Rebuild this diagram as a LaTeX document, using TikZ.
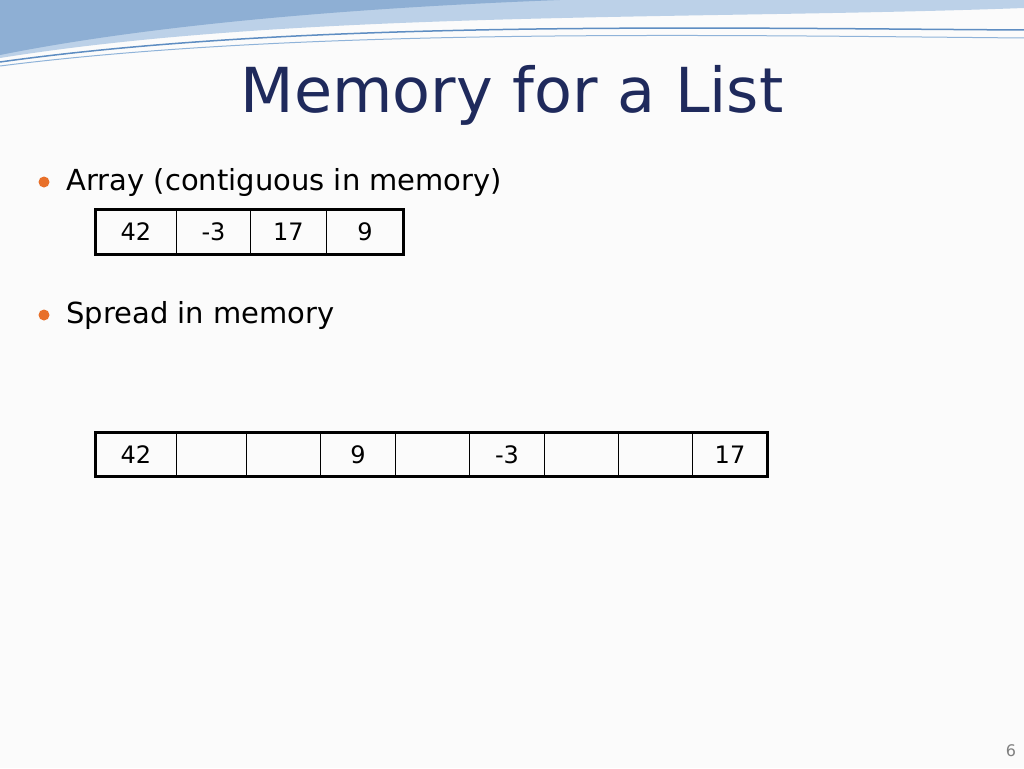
\documentclass[tikz,border=0pt]{standalone}
\usepackage{fontspec}
\setmainfont{DejaVu Sans}
\definecolor{titleblue}{HTML}{1F2A5C}
\definecolor{bulletorange}{HTML}{E8702A}
\definecolor{swoosh}{HTML}{8FB3D9}
\definecolor{swooshdark}{HTML}{5E8DC2}
\tikzset{
  cell/.style={draw=black, line width=1pt, minimum height=44pt, inner sep=0pt, font=\fontsize{24}{24}\selectfont},
  bullettext/.style={anchor=west, font=\fontsize{29}{29}\selectfont},
  dot/.style={circle, fill=bulletorange, inner sep=0pt, minimum size=11pt}
}
\begin{document}
\begin{tikzpicture}[x=1pt,y=-1pt]
\useasboundingbox[fill=white!97!gray] (0,0) rectangle (1024,768);
% top swoosh
\fill[swoosh!60] (0,0) -- (1024,0) -- (1024,8) .. controls (700,20) and (300,10) .. (0,58) -- cycle;
\fill[swooshdark!70] (0,0) -- (560,0) .. controls (350,8) and (150,25) .. (0,55) -- cycle;
\draw[swooshdark, line width=1.5pt] (0,62) .. controls (300,20) and (700,28) .. (1024,30);
\draw[swoosh, line width=1pt] (0,66) .. controls (300,28) and (700,35) .. (1024,38);
% title
\node[text=titleblue, font=\fontsize{62}{62}\selectfont] (title) at (512,95) {Memory for a List};
% bullets
\node[dot] (d1) at (44,182) {};
\node[bullettext] (b1) at (63,182) {Array (contiguous in memory)};
\node[dot] (d2) at (44,315) {};
\node[bullettext] (b2) at (63,315) {Spread in memory};
% contiguous array
\foreach \x/\w/\v [count=\i] in {95/81/42,176/74/-3,250/76/17,326/77/9}
  \node[cell, anchor=north west, minimum width=\w pt] (a\i) at (\x,209) {\v};
\draw[line width=3pt] (95,209) rectangle (403,254);
% spread array
\foreach \x/\w/\v [count=\i] in {95/81/42,176/70/,246/74/,320/75/9,395/74/,469/75/-3,544/74/,618/74/,692/75/17}
  \node[cell, anchor=north west, minimum width=\w pt] (s\i) at (\x,432) {\v};
\draw[line width=3pt] (95,432) rectangle (767,476);
\node[text=gray, font=\fontsize{16}{16}\selectfont] (page) at (1011,751) {6};
\end{tikzpicture}
\end{document}
